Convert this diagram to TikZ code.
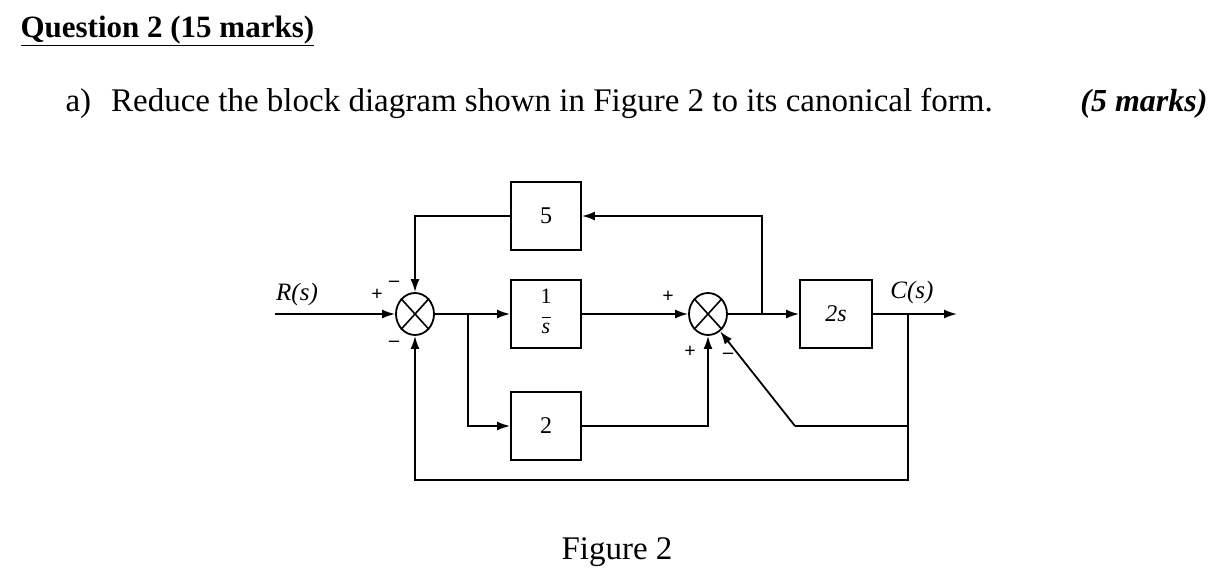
\documentclass[tikz,border=0pt]{standalone}
\usepackage{fontspec}
\setmainfont{Liberation Serif}
\usetikzlibrary{arrows.meta,shapes.geometric}
\begin{document}
\begin{tikzpicture}[x=1pt,y=-1pt,
  blk/.style={draw,line width=1.8pt,minimum width=70pt,minimum height=68pt,inner sep=0pt,font=\fontsize{24}{24}\selectfont},
  sm/.style={draw,line width=1.8pt,ellipse,minimum width=38pt,minimum height=42pt,inner sep=0pt},
  ln/.style={line width=1.8pt},
  ar/.style={ln,-{Latex[length=13pt,width=9pt]}},
  sg/.style={font=\fontsize{20}{20}\selectfont\bfseries}]
\useasboundingbox (0,0) rectangle (1220,574);
\node[anchor=base west,font=\fontsize{31}{31}\selectfont\bfseries] (q) at (17,37) {\underline{Question 2 (15 marks)}};
\node[anchor=base west,font=\fontsize{33}{33}\selectfont] (a) at (62,111) {a)\hspace{20pt}Reduce the block diagram shown in Figure 2 to its canonical form.};
\node[anchor=base east,font=\fontsize{32}{32}\selectfont\bfseries\itshape] (m) at (1211,111) {(5 marks)};
\node[anchor=base,font=\fontsize{33}{33}\selectfont] (f) at (617,559) {Figure 2};
\node[blk] (b5) at (546,216) {5};
\node[blk] (bi) at (546,314) {\begin{tabular}{@{}c@{}}\fontsize{22}{20}\selectfont 1\\[-10pt]\rule{9pt}{1.2pt}\\[-8pt]\fontsize{22}{20}\selectfont\itshape s\end{tabular}};
\node[blk] (b2) at (546,426) {2};
\node[blk,minimum width=72pt] (b2s) at (836,314) {\itshape 2s};
\node[sm] (s1) at (415,314) {};
\draw[line width=1.6pt] (s1.north west) -- (s1.south east) (s1.north east) -- (s1.south west);
\node[sm] (s2) at (708,314) {};
\draw[line width=1.6pt] (s2.north west) -- (s2.south east) (s2.north east) -- (s2.south west);
\coordinate (in) at (275,314);
\coordinate (out) at (957,314);
\coordinate (br) at (468,314);
\coordinate (pk) at (762,314);
\coordinate (po) at (908,314);
\draw[ar] (in) -- (s1.west);
\draw[ln] (s1.east) -- (br);
\draw[ar] (br) -- (bi.west);
\draw[ar] (bi.east) -- (s2.west);
\draw[ar] (s2.east) -- (b2s.west);
\draw[ar] (b2s.east) -- (out);
\draw[ar] (br) |- (b2.west);
\draw[ar] (b2.east) -| (s2.south);
\draw[ar] (pk) |- (b5.east);
\draw[ar] (b5.west) -| (s1.north);
\draw[ar] (po) |- (415,480) -- (s1.south);
\draw[ln] (908,426) -- (795,426);
\draw[ar] (795,426) -- (s2.-55);
\node[font=\fontsize{25}{25}\selectfont\itshape] (rs) at (297,294) {R(s)};
\node[font=\fontsize{25}{25}\selectfont\itshape] (cs) at (912,292) {C(s)};
\node[sg] at (377,295) {+};
\node[sg] at (394,284) {–};
\node[sg] at (394,344) {–};
\node[sg] at (668,297) {+};
\node[sg] at (690,352) {+};
\node[sg] at (728,356) {–};
\end{tikzpicture}
\end{document}
